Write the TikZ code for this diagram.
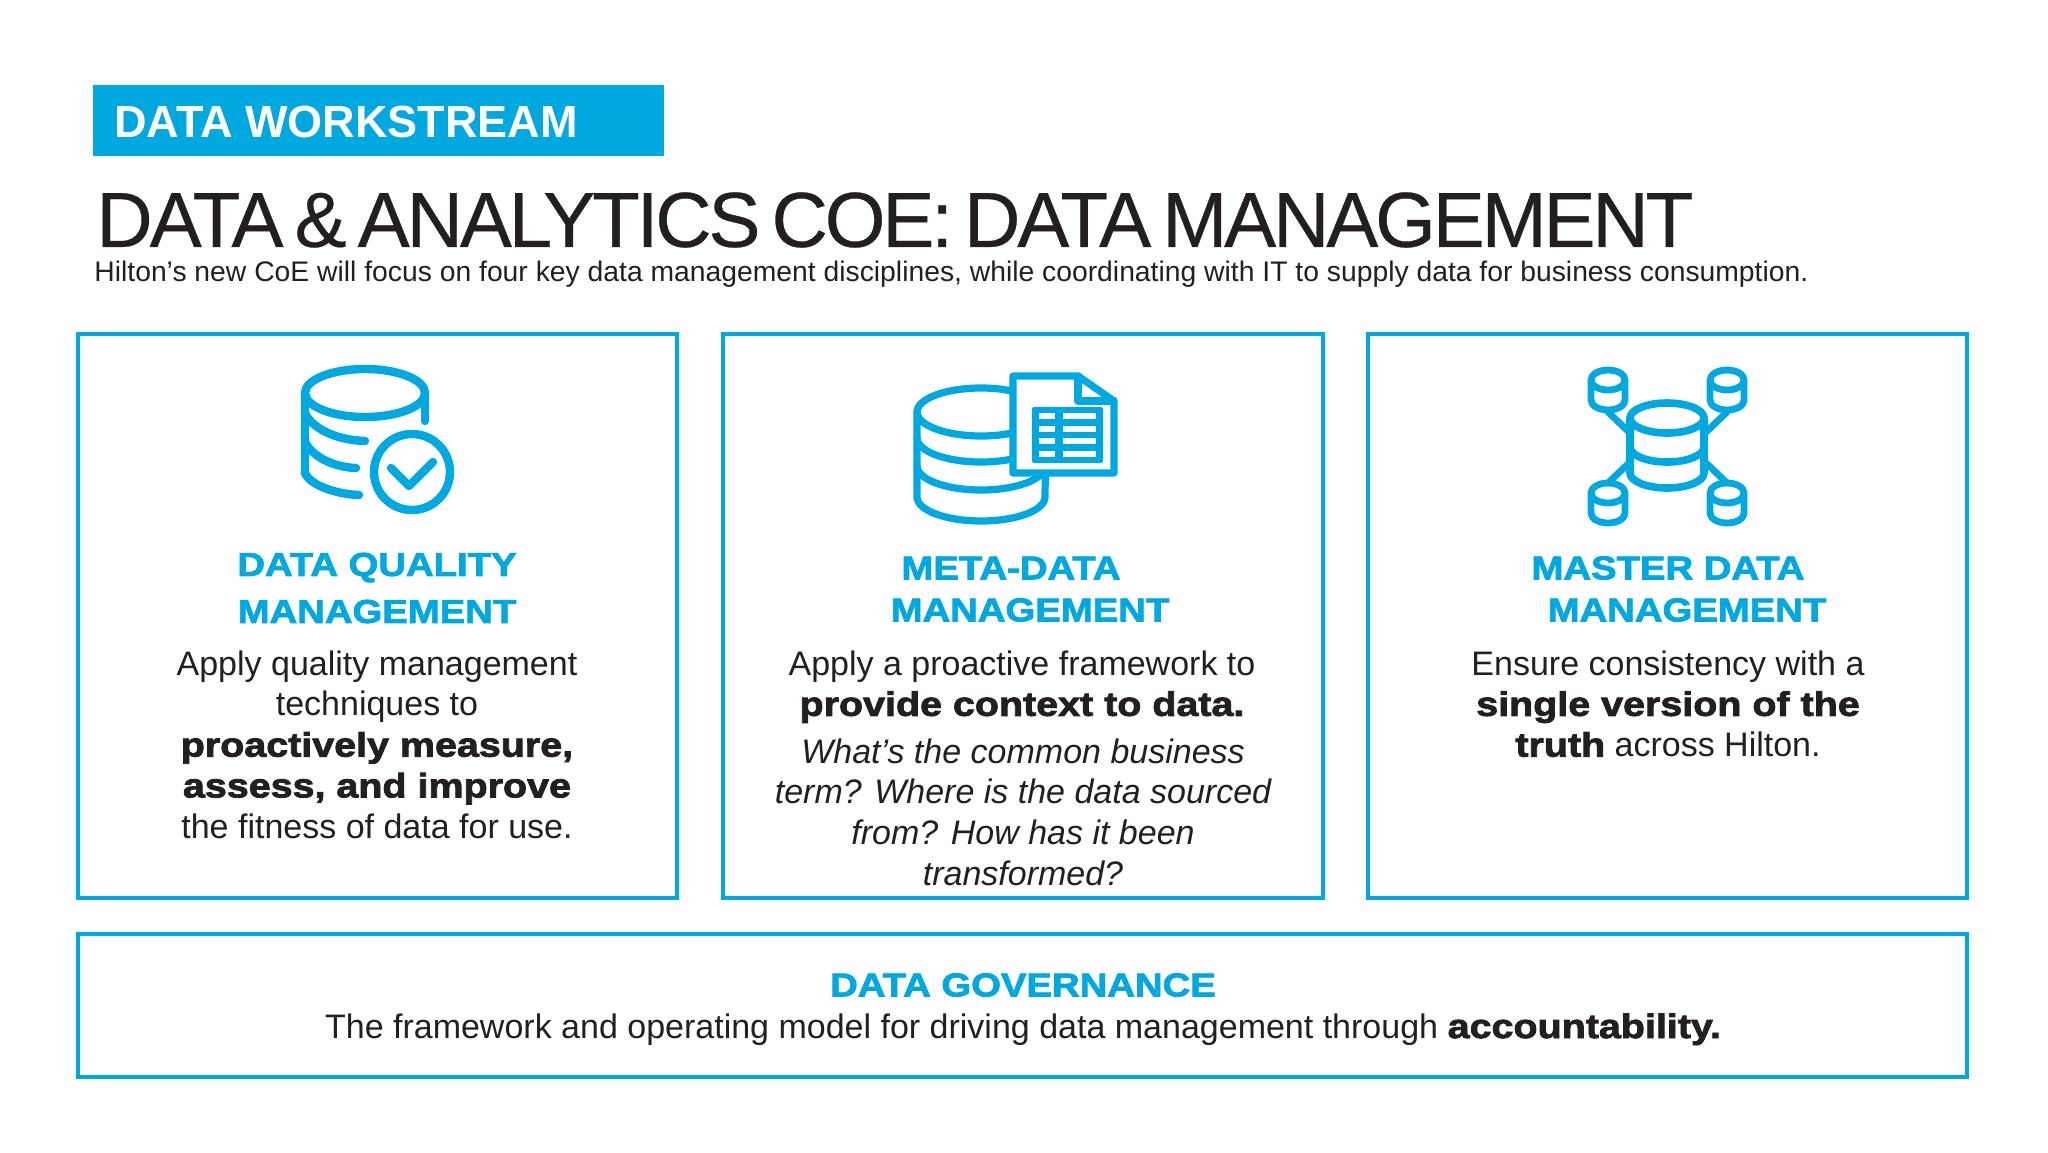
\documentclass[tikz,border=0pt]{standalone}
\usepackage{fontspec}
\setmainfont{Liberation Sans}
\newfontfamily\heavyfont[BoldFeatures={FakeStretch=1.16,FakeBold=2.4}]{Liberation Sans}
\newfontfamily\titlefont[LetterSpace=-4,WordSpace=0.6,FakeBold=0.4]{Liberation Sans}
\definecolor{hiltonblue}{HTML}{00A8E0}
\definecolor{inkdark}{HTML}{231F20}
\tikzset{
  panel/.style={draw=hiltonblue,line width=1.9pt},
  icon/.style={draw=hiltonblue,line width=4.2pt,line cap=round,line join=round},
  heading/.style={text=hiltonblue,inner sep=0pt,font=\heavyfont\bfseries\fontsize{16.5}{23.5}\selectfont,align=center},
  bodytext/.style={text=inkdark,inner sep=0pt,font=\fontsize{17}{20.4}\selectfont,align=center,anchor=north},
}
\newcommand{\heavy}[1]{{\heavyfont\bfseries #1}}
\begin{document}
\begin{tikzpicture}[x=.5pt,y=-.5pt]
\useasboundingbox (0,0) rectangle (2048,1152);
% header
\fill[hiltonblue] (93,85) rectangle (664,156);
\node (banner) [anchor=west,inner sep=0pt,text=white,font=\bfseries\fontsize{22.5}{22.5}\selectfont] at (114,122) {DATA WORKSTREAM};
\node (title) [anchor=west,inner sep=0pt,text=inkdark,font=\titlefont\fontsize{39}{39}\selectfont] at (96,220) {DATA \& ANALYTICS COE: DATA MANAGEMENT};
\node (subtitle) [anchor=west,inner sep=0pt,text=inkdark,font=\fontsize{14.15}{14.15}\selectfont] at (94,274) {Hilton’s new CoE will focus on four key data management disciplines, while coordinating with IT to supply data for business consumption.};
% panels
\draw[panel] (78,334) rectangle (677,898);
\draw[panel] (723,334) rectangle (1323,898);
\draw[panel] (1368,334) rectangle (1967,898);
\draw[panel] (78,934) rectangle (1967,1077);
% quality icon
\draw[icon] (365,393) ellipse [x radius=30pt,y radius=12pt];
\draw[icon] (305,393) -- (305,473) .. controls (310,485) and (335,494) .. (359,495);
\draw[icon] (425,393) -- (425,421);
\draw[icon] (305,413) .. controls (312,428) and (335,440) .. (365,441);
\draw[icon] (305,442) .. controls (312,456) and (332,467) .. (356,468);
\draw[icon] (412,472) circle [radius=19pt];
\draw[icon] (391,468) -- (409,486) -- (433,462);
% meta-data icon
\draw[icon,line width=3.6pt] (981,412) ellipse [x radius=32pt,y radius=12pt];
\draw[icon,line width=3.6pt] (917,412) -- (917,497) arc [start angle=180,end angle=360,x radius=32pt,y radius=12pt] -- (1046,412);
\draw[icon,line width=3.6pt] (917,438) arc [start angle=180,end angle=360,x radius=32pt,y radius=12pt];
\draw[icon,line width=3.6pt] (917,466) arc [start angle=180,end angle=360,x radius=32pt,y radius=12pt];
\draw[icon,line width=3.6pt,fill=white] (1013,376) -- (1078,376) -- (1114,401) -- (1114,473) -- (1013,473) -- cycle;
\draw[icon,line width=3.6pt] (1078,376) -- (1078,401) -- (1114,401);
\fill[hiltonblue,rounded corners=1pt] (1032,407) rectangle (1103,463);
\foreach \y in {413,426,438,451}{
  \fill[white] (1039,\y) rectangle (1055,\y+6);
  \fill[white] (1063,\y) rectangle (1096,\y+6);
}
% master data icon
\draw[icon,line width=3.4pt] (1608,412) -- (1630,433);
\draw[icon,line width=3.4pt] (1727,412) -- (1705,433);
\draw[icon,line width=3.4pt] (1608,483) -- (1630,462);
\draw[icon,line width=3.4pt] (1727,483) -- (1705,462);
\draw[icon,line width=3.8pt] (1667,418) ellipse [x radius=18.5pt,y radius=7.5pt];
\draw[icon,line width=3.8pt] (1630,418) -- (1630,473) arc [start angle=180,end angle=360,x radius=18.5pt,y radius=7.5pt] -- (1704,418);
\draw[icon,line width=3.8pt] (1630,447) arc [start angle=180,end angle=360,x radius=18.5pt,y radius=7.5pt];
\foreach \x/\y in {1608/380,1727/380,1608/493,1727/493}{
  \draw[icon,line width=3.4pt] (\x,\y) ellipse [x radius=8.5pt,y radius=5pt];
  \draw[icon,line width=3.4pt] (\x-17,\y) -- (\x-17,\y+20) arc [start angle=180,end angle=360,x radius=8.5pt,y radius=5pt] -- (\x+17,\y);
}
% headings
\node (qualityhead) [heading] at (377,588) {DATA QUALITY\\MANAGEMENT};
\node (metahead) [heading] at (1011,568) {META-DATA};
\node (metahead2) [heading] at (1030,610) {MANAGEMENT};
\node (masterhead) [heading] at (1668,568) {MASTER DATA};
\node (masterhead2) [heading] at (1687,610) {MANAGEMENT};
\node (govhead) [heading] at (1023,985) {DATA GOVERNANCE};
% body texts
\node (qualitytext) [bodytext] at (377,650) {Apply quality management\\techniques to\\\heavy{proactively measure,}\\\heavy{assess, and improve}\\the fitness of data for use.};
\node (metatext) [bodytext] at (1022,650) {Apply a proactive framework to\\\heavy{provide context to data.}};
\node (metaquestions) [bodytext,font=\itshape\fontsize{17}{20.4}\selectfont] at (1023,738) {What’s the common business\\term? Where is the data sourced\\from? How has it been\\transformed?};
\node (mastertext) [bodytext] at (1668,650) {Ensure consistency with a\\\heavy{single version of the}\\\heavy{truth} across Hilton.};
\node (govtext) [bodytext] at (1023,1013) {The framework and operating model for driving data management through \heavy{accountability.}};
\end{tikzpicture}
\end{document}
